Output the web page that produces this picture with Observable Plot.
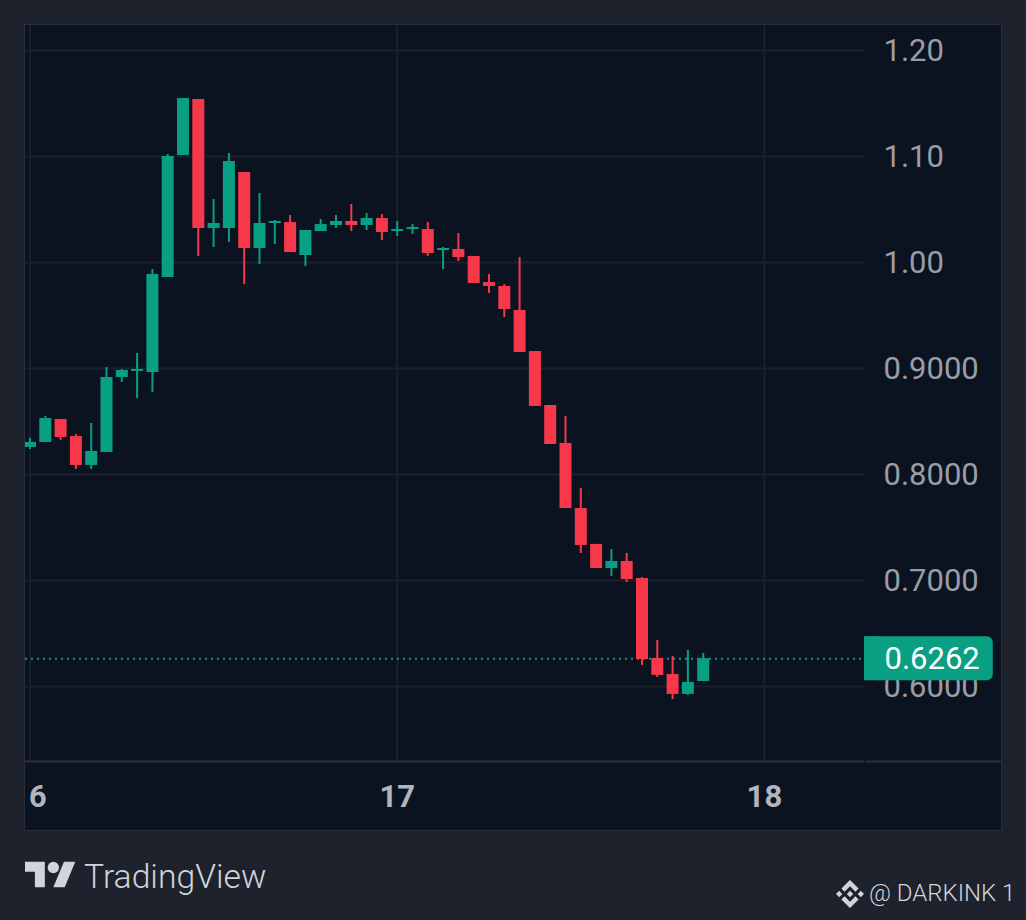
<!DOCTYPE html>
<html>
<head>
<meta charset="utf-8">
<script src="https://cdn.jsdelivr.net/npm/d3@7"></script>
<script src="https://cdn.jsdelivr.net/npm/@observablehq/plot@0.6"></script>
<style>
html,body{margin:0;padding:0;background:#1e222d;width:1026px;height:920px;overflow:hidden;font-family:Roboto,sans-serif}
#panel{position:absolute;left:25px;top:25px;width:976px;height:805px;background:#0c1320;outline:1px solid #2a2e39;outline-offset:0}
#panel svg{display:block;background:transparent;overflow:visible}
#tv{position:absolute;left:25px;top:856px}
#tvt{position:absolute;left:84px;top:856px;font-size:33.7px;line-height:42px;color:#d1d4dc;font-weight:300}
#bn{position:absolute;left:836px;top:880px}
#bnt{position:absolute;left:869px;top:878px;font-size:24px;line-height:30px;color:#d1d4dc;white-space:nowrap;font-weight:300}
</style>
</head>
<body>
<div id="panel"></div>
<svg id="tv" width="51" height="40" viewBox="0 0 36 28" fill="#d1d4dc"><path d="M14 22H7V11H0V4h14v18zM28 22h-8l7.5-18h8L28 22z"/><circle cx="20" cy="8" r="4"/></svg>
<div id="tvt">TradingView</div>
<svg id="bn" width="28" height="28" viewBox="0 0 126.61 126.61" fill="#d1d4dc"><path d="M38.73 53.2l24.59-24.58 24.6 24.6 14.3-14.31L63.32 0 24.42 38.9l14.31 14.3z"/><path d="M0 63.31l14.3-14.31 14.31 14.31-14.31 14.3z"/><path d="M38.73 73.41l24.59 24.59 24.6-24.6 14.31 14.29-38.9 38.91-38.91-38.88-.02-.02z"/><path d="M98 63.31l14.3-14.31 14.31 14.3-14.31 14.32z"/><path d="M77.83 63.3L63.32 48.78 52.59 59.51l-1.24 1.23-2.54 2.54 14.51 14.5 14.51-14.47z"/></svg>
<div id="bnt">@ DARKINK 1</div>
<script>
const open  = [.8255,.8302,.8519,.8358,.8085,.8208,.8915,.8972,.8962,.9858,1.1009,1.1538,1.0321,1.0321,1.0849,1.0132,1.0368,1.0377,1.0066,1.0292,1.0349,1.0387,1.0349,1.0415,1.0292,1.0311,1.0311,1.0113,1.0123,1.0057,.9811,.9774,.9547,.9160,.8651,.8292,.7679,.7340,.7113,.7179,.7019,.6264,.6113,.5925,.6047];
const high  = [.8340,.8547,.8519,.8377,.8481,.9009,.8991,.9142,.9934,1.1019,1.1547,1.1538,1.0594,1.1028,1.0849,1.0651,1.0396,1.0443,1.0302,1.0406,1.0443,1.0547,1.0462,1.0453,1.0387,1.0358,1.0377,1.0142,1.0274,1.0057,.9887,.9792,1.0047,.9160,.8651,.8547,.7868,.7340,.7292,.7255,.7028,.6434,.6283,.6340,.6311];
const low   = [.8236,.8302,.8321,.8047,.8047,.8208,.8868,.8717,.8774,.9858,1.1009,1.0057,1.0142,1.0189,.9792,.9981,1.0170,1.0094,.9962,1.0292,1.0321,1.0292,1.0302,1.0208,1.0245,1.0264,1.0057,.9934,1.0009,.9802,.9708,.9481,.9151,.8642,.8283,.7679,.7255,.7113,.7038,.6981,.6198,.6085,.5877,.5915,.6047];
const close = [.8302,.8528,.8349,.8085,.8217,.8915,.8981,.8991,.9887,1.1000,1.1547,1.0321,1.0368,1.0953,1.0132,1.0368,1.0387,1.0094,1.0302,1.0358,1.0387,1.0349,1.0415,1.0283,1.0311,1.0330,1.0085,1.0132,1.0047,.9802,.9774,.9557,.9151,.8642,.8283,.7679,.7330,.7113,.7179,.7009,.6255,.6104,.5925,.6038,.6262];
const priceTicks = [1.2,1.1,1.0,0.9,0.8,0.7,0.6];
const dayGrid = [0,24,48];
const dayLabelPos = [0.52,24,48];
const dayLabels = ["6","17","18"];
const lastPrice = 0.6262;

const GREEN = "#089f83", RED = "#f7374a", GRID = "#1a212e", EDGE = "#2a2e39";
const candles = open.map((o,i)=>({i,o,h:high[i],l:low[i],c:close[i],col:close[i]>=o?GREEN:RED}));

// x domain: candle index; right side continues under the price axis
const xMin=-0.294, xMax=54.543, xFull=63.49;
const xTag1=62.96;
const yBottom=0.5292;
const tagHalf=0.0208;

const chart = Plot.plot({
  width:976, height:805,
  marginLeft:0, marginRight:137, marginTop:0, marginBottom:69,
  style:{background:"transparent",overflow:"visible"},
  x:{domain:[xMin,xMax],axis:null},
  y:{domain:[yBottom,1.2236],axis:null},
  marks:[
    Plot.ruleY(priceTicks,{stroke:GRID,strokeWidth:2}),
    Plot.ruleX(dayGrid,{stroke:GRID,strokeWidth:2}),
    Plot.ruleY([yBottom],{x1:xMin,x2:xMax,stroke:EDGE,strokeWidth:2,clip:false}),
    Plot.ruleY([yBottom],{x1:xMax+0.1,x2:xFull,stroke:EDGE,strokeWidth:2,clip:false}),
    Plot.ruleY([lastPrice],{x1:xMin,x2:xMax,stroke:GREEN,strokeWidth:2,strokeDasharray:"2,4",clip:true}),
    Plot.ruleX(candles,{x:"i",y1:"l",y2:"h",stroke:"col",strokeWidth:2,clip:true}),
    Plot.ruleX(candles,{x:"i",y1:"o",y2:"c",stroke:"col",strokeWidth:12,clip:true}),
    Plot.axisY(priceTicks,{anchor:"right",tickSize:0,tickPadding:19,label:null,dy:1,
      tickFormat:d=>d>=1?d.toFixed(2):d.toFixed(4),fontSize:31,fill:"#9a9da6",fontFamily:"Roboto"}),
    Plot.axisX(dayLabelPos,{anchor:"bottom",tickSize:0,tickPadding:23,label:null,
      tickFormat:(d,i)=>dayLabels[i],fontSize:31,fontWeight:700,fill:"#b2b5be",fontFamily:"Roboto"}),
    Plot.rect([lastPrice],{x1:xMax+0.5,x2:xTag1,y1:d=>d-tagHalf,y2:d=>d+tagHalf,fill:GREEN,rx:6,clip:false}),
    Plot.rect([lastPrice],{x1:xMax,x2:xMax+1,y1:d=>d-tagHalf,y2:d=>d+tagHalf,fill:GREEN,clip:false}),
    Plot.text([lastPrice],{x:xMax,y:d=>d,text:d=>d.toFixed(4),dx:20,textAnchor:"start",fill:"#ffffff",fontSize:31,fontFamily:"Roboto",clip:false})
  ]
});
document.getElementById("panel").appendChild(chart);
</script>
</body>
</html>
